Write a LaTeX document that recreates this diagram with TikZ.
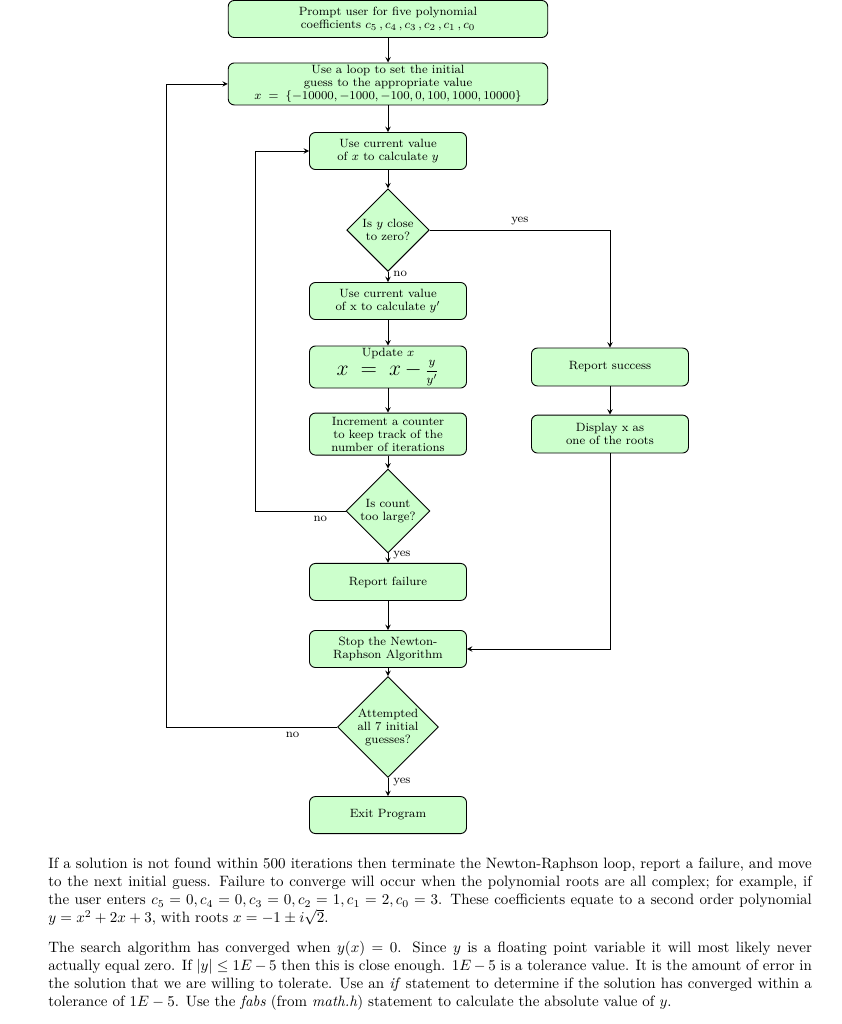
\documentclass[tikz,border=0pt]{standalone}
\usepackage{amsmath}
\usepackage{amssymb}
\usepackage{tikz}
\usetikzlibrary{shapes,arrows,positioning,calc}

\begin{document}
\begin{tikzpicture}[>=stealth, auto, semithick,
        block/.style={draw, rounded corners=4pt, fill=green!20, align=center, font=\fontsize{8}{8.7}\selectfont, minimum width=104.7pt, minimum height=24.7pt, inner xsep=3pt, inner ysep=1.5pt},
        wide/.style={block, minimum width=213pt},
        decision/.style={draw, diamond, fill=green!20, align=center, font=\fontsize{8}{8.7}\selectfont, inner sep=0.5pt, minimum size=#1},
        lbl/.style={font=\fontsize{8}{8.7}\selectfont},
        para/.style={anchor=north west, text width=509pt, inner sep=0pt, align=justify, font=\normalsize}]
        \useasboundingbox (-258.67pt,12.67pt) rectangle (302pt,-670pt);

        % Nodes
        \node[wide] (prompt) {Prompt user for five polynomial\\coefficients $c_5\,, c_4\,, c_3\,, c_2\,, c_1\,, c_0$};
        \node[wide, below of=prompt, node distance=43.3pt, minimum height=28pt] (loop) {Use a loop to set the initial\\guess to the appropriate value\\$x \;=\; \{-10000, -1000, -100, 0, 100, 1000, 10000\}$};
        \node[block, below of=loop, node distance=44.7pt] (calcy) {Use current value\\of $x$ to calculate $y$};
        \node[decision=55pt, below of=calcy, node distance=52.7pt] (close) {Is $y$ close\\to zero?};
        \node[block, below of=close, node distance=47.3pt] (calcyp) {Use current value\\of x to calculate $y'$};
        \node[block, below of=calcyp, node distance=44pt, minimum height=28pt, inner ysep=1pt] (update) {Update $x$\\{\Large $x \;=\; x \,-$}\;\raisebox{1.2pt}{$\displaystyle\frac{y}{y'}$}};
        \node[block, below of=update, node distance=44.7pt, minimum height=28pt] (incr) {Increment a counter\\to keep track of the\\number of iterations};
        \node[decision=56pt, below of=incr, node distance=51.3pt] (count) {Is count\\too large?};
        \node[block, below of=count, node distance=47.3pt] (fail) {Report failure};
        \node[block, below of=fail, node distance=44.7pt] (stop) {Stop the Newton-\\Raphson Algorithm};
        \node[decision=65pt, below of=stop, node distance=52pt] (attempt) {Attempted\\all 7 initial\\guesses?};
        \node[block, below of=attempt, node distance=58.7pt] (exit) {Exit Program};

        \node[block, right of=update, node distance=148pt, minimum height=25.3pt] (success) {Report success};
        \node[block, below of=success, node distance=44.7pt, minimum height=25.3pt] (display) {Display x as\\one of the roots};

        % Edges
        \draw[->] (prompt) -- (loop);
        \draw[->] (loop) -- (calcy);
        \draw[->] (calcy) -- (close);
        \draw[->] (close) -- node[lbl, right, pos=0.2] {no} (calcyp);
        \draw[->] (calcyp) -- (update);
        \draw[->] (update) -- (incr);
        \draw[->] (incr) -- (count);
        \draw[->] (count) -- node[lbl, right, pos=0.2] {yes} (fail);
        \draw[->] (fail) -- (stop);
        \draw[->] (stop) -- (attempt);
        \draw[->] (attempt) -- node[lbl, right, pos=0.2] {yes} (exit);

        \draw[->] (close.east) -| node[lbl, above, pos=0.25] {yes} (success.north);
        \draw[->] (success) -- (display);
        \draw[->] (display.south) |- (stop.east);

        \draw[->] (count.west) -- node[lbl, below, pos=0.28] {no} ++(-60pt,0) |- (calcy.west);
        \draw[->] (attempt.west) -- node[lbl, below, pos=0.26] {no} ++(-114pt,0) |- (loop.west);

        % Notes
        \node[para] (note1) at (-226.7pt,-559.3pt) {If a solution is not found within 500 iterations then terminate the Newton-Raphson loop, report a failure, and move to the next initial guess. Failure to converge will occur when the polynomial roots are all complex; for example, if the user enters $c_5=0, c_4=0, c_3=0, c_2=1, c_1=2, c_0=3$. These coefficients equate to a second order polynomial $y=x^2+2x+3$, with roots $x=-1\pm i\sqrt{2}$.};
        \node[para] (note2) at (-226.7pt,-614.7pt) {The search algorithm has converged when $y(x)=0$. Since $y$ is a floating point variable it will most likely never actually equal zero. If $|y|\leq 1E-5$ then this is close enough. $1E-5$ is a tolerance value. It is the amount of error in the solution that we are willing to tolerate. Use an \emph{if} statement to determine if the solution has converged within a\linebreak tolerance of $1E-5$. Use the \emph{fabs} (from \emph{math.h}) statement to calculate the absolute value of $y$.};
    \end{tikzpicture}
\end{document}
